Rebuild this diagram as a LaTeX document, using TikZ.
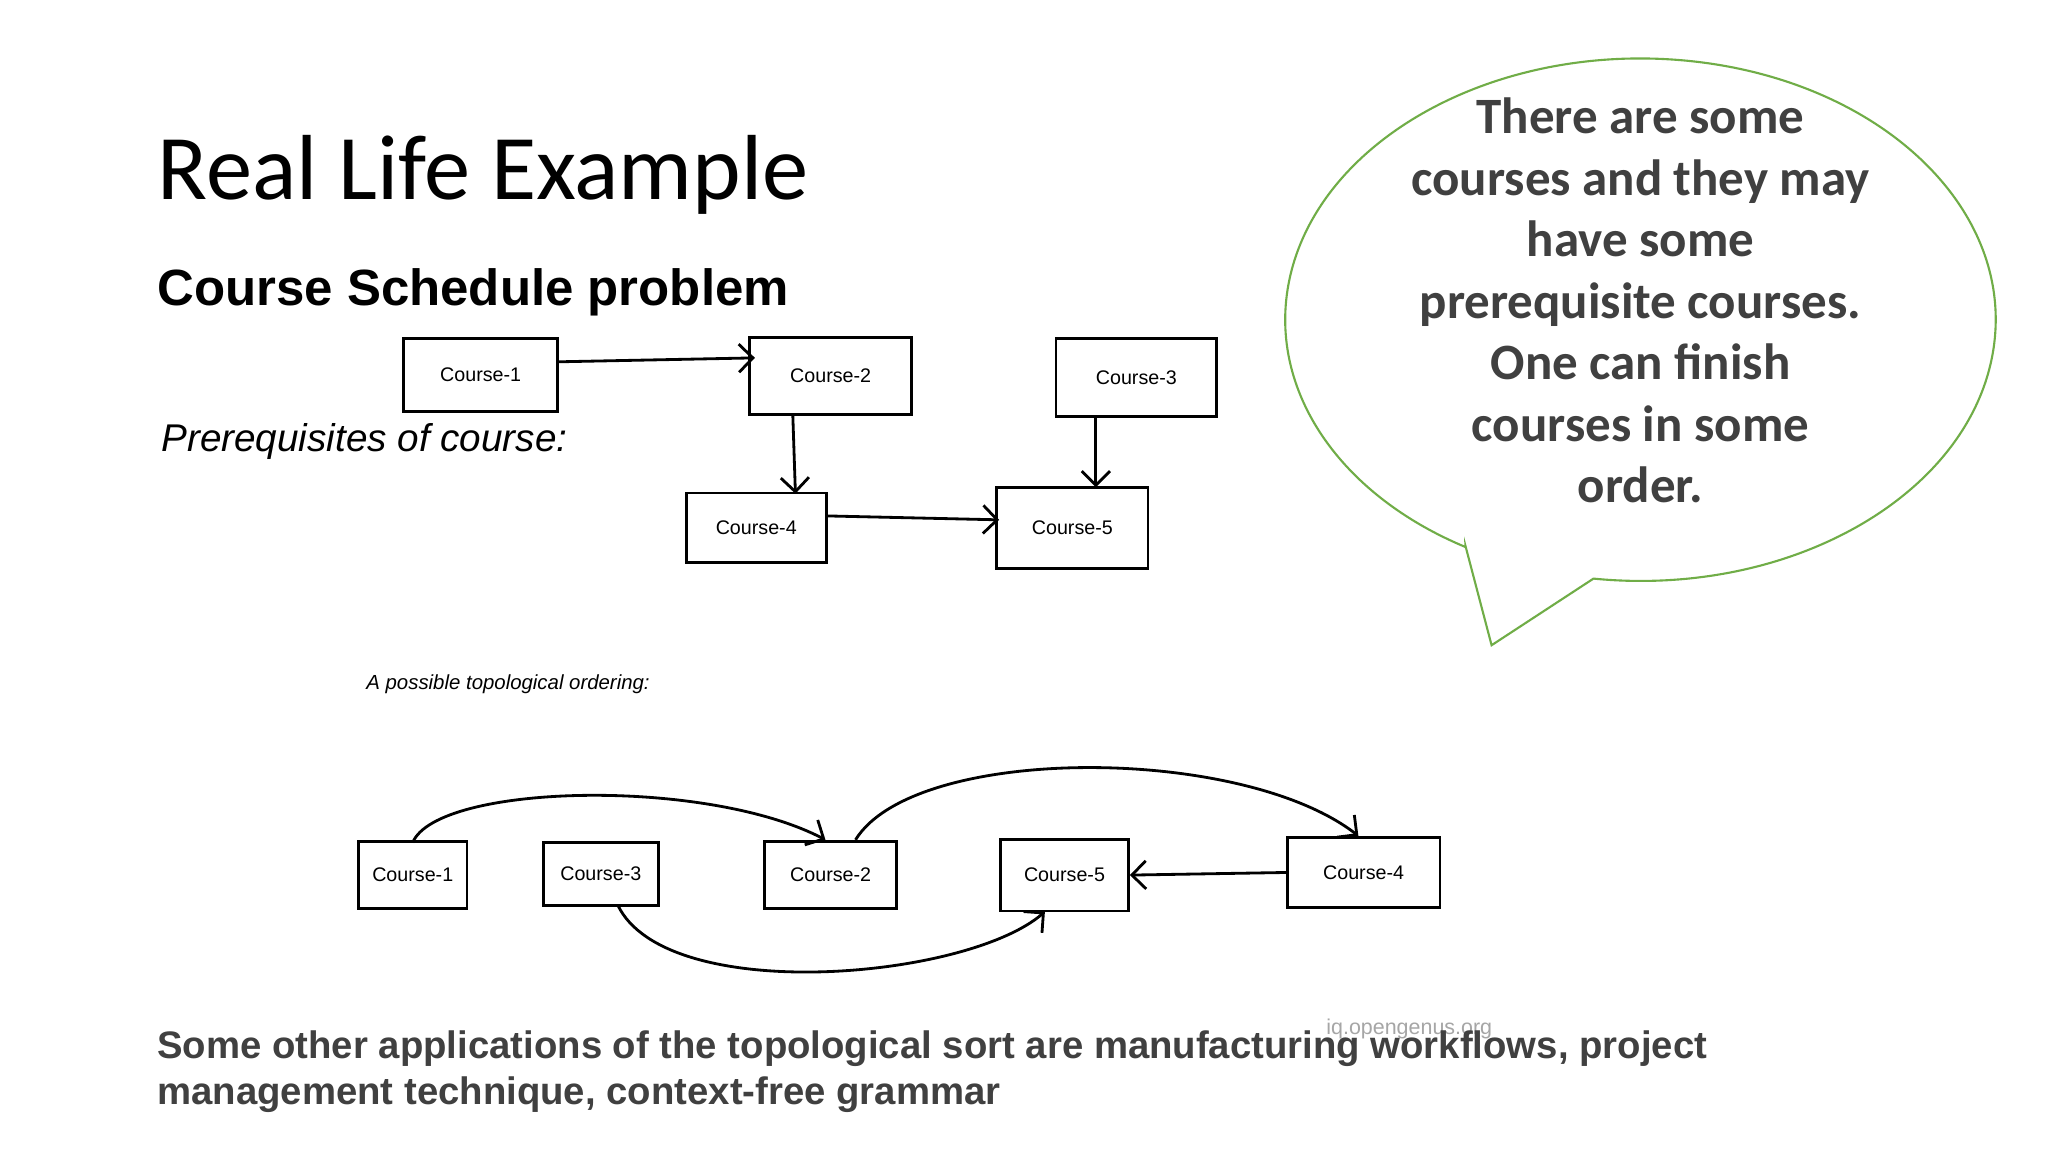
\documentclass[tikz,border=0pt]{standalone}
\usepackage{fontspec}
\setmainfont{Liberation Sans}
\newfontfamily\calib{Carlito}
\definecolor{calloutgreen}{RGB}{112,173,71}
\definecolor{txtgray}{RGB}{64,64,64}
\tikzset{
  course/.style={draw, thick, inner sep=0pt, font=\fontsize{5.6}{7}\selectfont},
  link/.style={draw, thick, ->, >={Straight Barb[length=4pt]}},
}
\usetikzlibrary{arrows.meta}
\begin{document}
\begin{tikzpicture}[x=0.013061cm, y=-0.013061cm]
\useasboundingbox (0,0) rectangle (1568,882);
\fill[white] (0,0) rectangle (1568,882);

% titles
\node[anchor=base west, inner sep=0pt, font=\calib\fontsize{26.3}{30}\selectfont] (title) at (120,153) {Real Life Example};
\node[anchor=base west, inner sep=0pt, font=\bfseries\fontsize{14.5}{18}\selectfont] (sub) at (120,234) {Course Schedule problem};
\node[anchor=base west, inner sep=0pt, font=\itshape\fontsize{11}{12}\selectfont] (pre) at (123,346) {Prerequisites of course:};
\node[anchor=base west, inner sep=0pt, font=\itshape\fontsize{5.8}{7}\selectfont] (poss) at (280,528) {A possible topological ordering:};

% top graph
\node[course, minimum width=118*0.013061cm, minimum height=56*0.013061cm] (a1) at (368,287) {Course-1};
\node[course, minimum width=124*0.013061cm, minimum height=59*0.013061cm] (a2) at (636,288) {Course-2};
\node[course, minimum width=123*0.013061cm, minimum height=60*0.013061cm] (a3) at (870,289) {Course-3};
\node[course, minimum width=107*0.013061cm, minimum height=53*0.013061cm] (a4) at (579,404) {Course-4};
\node[course, minimum width=116*0.013061cm, minimum height=62*0.013061cm] (a5) at (821,404) {Course-5};
\draw[link] (a1.east |- 0,277) -- (578,274);
\draw[link] (607,318) -- (609,378);
\draw[link] (839,319) -- (839,373);
\draw[link] (633,395) -- (765,398);

% bottom ordering
\node[course, minimum width=83*0.013061cm, minimum height=51*0.013061cm] (b1) at (316,670) {Course-1};
\node[course, minimum width=88*0.013061cm, minimum height=48*0.013061cm] (b3) at (460,669) {Course-3};
\node[course, minimum width=101*0.013061cm, minimum height=51*0.013061cm] (b2) at (636,670) {Course-2};
\node[course, minimum width=98*0.013061cm, minimum height=55*0.013061cm] (b5) at (815,670) {Course-5};
\node[course, minimum width=117*0.013061cm, minimum height=54*0.013061cm] (b4) at (1044,668) {Course-4};
\draw[link] (316,645) .. controls (335,600) and (540,595) .. (632,643);
\draw[link] (655,643) .. controls (700,570) and (950,570) .. (1040,640);
\draw[link] (473,693) .. controls (510,770) and (740,750) .. (800,698);
\draw[link] (b4.west) -- (b5.east);

% callout
\draw[calloutgreen, semithick, fill=white] (1122,418) -- (1142,494) -- (1220,443)
  arc[start angle=97.6, end angle=-240.5, x radius=272, y radius=200] -- cycle;
\node[align=center, text=txtgray, font=\calib\bfseries\fontsize{14.5}{17.5}\selectfont, inner sep=0pt] (say) at (1256,230)
  {There are some\\courses and they may\\have some\\prerequisite courses.\\One can finish\\courses in some\\order.};

% bottom text
\node[anchor=base west, inner sep=0pt, text=gray!70, font=\fontsize{6.1}{7}\selectfont] (wm) at (1015,792) {iq.opengenus.org};
\node[anchor=north west, inner sep=0pt, align=left, text=txtgray, font=\bfseries\fontsize{10.9}{12.9}\selectfont] (apps) at (120,789)
  {Some other applications of the topological sort are manufacturing workflows, project\\management technique, context-free grammar};
\end{tikzpicture}
\end{document}
